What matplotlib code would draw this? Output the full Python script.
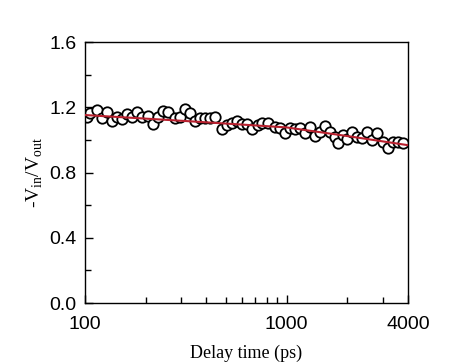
import matplotlib
matplotlib.use("Agg")
import matplotlib.pyplot as plt
from matplotlib.ticker import FixedLocator, NullFormatter, LogLocator

# measured points (delay time in ps, -Vin/Vout)
delay = [102, 105.9, 114.3, 121.0, 128.1, 135.6, 143.6, 152.1, 161.0, 170.4,
         180.5, 191.1, 206.1, 218.2, 231.0, 244.6, 259.0, 279.6, 296.0, 313.3,
         331.7, 351.3, 371.9, 393.8, 416.9, 441.4, 476.4, 504.6, 534.2, 565.6,
         598.9, 634.1, 671.3, 723.8, 752.5, 811.3, 876.0, 927.5, 981.9, 1039.7,
         1101, 1165, 1234, 1306, 1383, 1465, 1550, 1642, 1738, 1805,
         1911, 1987, 2104, 2227, 2358, 2497, 2643, 2799, 3018, 3195,
         3383, 3582, 3793]
ratio = [1.143, 1.164, 1.184, 1.133, 1.174, 1.118, 1.143, 1.127, 1.160, 1.143,
         1.174, 1.139, 1.147, 1.098, 1.139, 1.180, 1.174, 1.133, 1.143, 1.188,
         1.167, 1.118, 1.133, 1.133, 1.133, 1.139, 1.066, 1.092, 1.102, 1.118,
         1.098, 1.098, 1.066, 1.092, 1.102, 1.102, 1.082, 1.072, 1.041, 1.072,
         1.066, 1.072, 1.041, 1.082, 1.025, 1.051, 1.086, 1.051, 1.020, 0.983,
         1.031, 1.004, 1.051, 1.020, 1.010, 1.051, 1.000, 1.041, 0.990, 0.949,
         0.990, 0.990, 0.983]

# fitted curve
fit_t = [100, 300, 1000, 2000, 4000]
fit_v = [1.153, 1.118, 1.077, 1.024, 0.968]

plt.rcParams['mathtext.fontset'] = 'custom'
plt.rcParams['mathtext.rm'] = 'Liberation Serif'

fig = plt.figure(figsize=(4.74, 3.63), dpi=100)
ax = fig.add_axes([0.179, 0.165, 0.682, 0.719])

ax.plot(delay, ratio, 'o', ms=7.5, mfc='white', mec='black', mew=1.3,
        zorder=2)
ax.plot(fit_t, fit_v, '-', color='#b8202e', lw=1.5, zorder=3)

ax.set_xscale('log')
ax.set_xlim(100, 4000)
ax.set_ylim(0, 1.6)

ax.xaxis.set_major_locator(FixedLocator([100, 1000, 4000]))
ax.set_xticklabels(['100', '1000', '4000'])
ax.xaxis.set_minor_locator(LogLocator(base=10, subs=range(2, 10)))
ax.xaxis.set_minor_formatter(NullFormatter())
ax.set_yticks([0, 0.4, 0.8, 1.2, 1.6])
ax.set_yticklabels(['0.0', '0.4', '0.8', '1.2', '1.6'])
ax.set_yticks([0.2, 0.6, 1.0, 1.4], minor=True)

ax.tick_params(which='both', direction='in', top=False, right=False,
               labelsize=14, width=1)
ax.tick_params(axis='x', pad=9)
ax.tick_params(axis='y', pad=6)
ax.tick_params(which='major', length=6)
ax.tick_params(which='minor', length=4)
for lbl in ax.get_xticklabels() + ax.get_yticklabels():
    lbl.set_family(['Liberation Sans', 'DejaVu Sans'])
for sp in ax.spines.values():
    sp.set_linewidth(1)

ax.set_xlabel('Delay time (ps)', family='Liberation Serif', fontsize=13,
              labelpad=9)
ax.set_ylabel(r'-V$_{\rm in}$/V$_{\rm out}$', family='Liberation Serif',
              fontsize=14, labelpad=3)

fig.savefig('out.png', dpi=100)
